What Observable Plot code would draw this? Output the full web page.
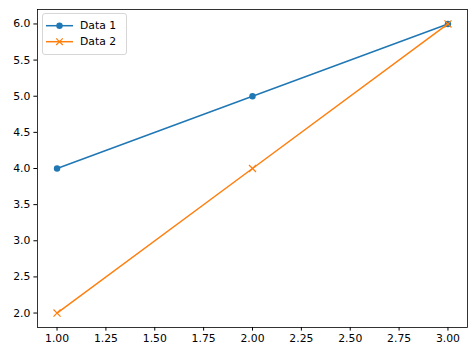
<!DOCTYPE html>
<html>
<head>
<meta charset="utf-8">
<script src="https://cdn.jsdelivr.net/npm/d3@7"></script>
<script src="https://cdn.jsdelivr.net/npm/@observablehq/plot@0.6"></script>
<style>
  html, body { margin: 0; padding: 0; background: #fff; }
  #chart svg { display: block; }
</style>
</head>
<body>
<div id="chart"></div>
<script>
const xValues = [1, 2, 3];
const data1 = [4, 5, 6];
const data2 = [2, 4, 6];
const seriesNames = ["Data 1", "Data 2"];
const seriesColors = ["#1f77b4", "#ff7f0e"];
const xTicks = [1.0, 1.25, 1.5, 1.75, 2.0, 2.25, 2.5, 2.75, 3.0];
const yTicks = [2.0, 2.5, 3.0, 3.5, 4.0, 4.5, 5.0, 5.5, 6.0];

const rows1 = xValues.map((x, i) => ({x, y: data1[i]}));
const rows2 = xValues.map((x, i) => ({x, y: data2[i]}));

const font = "DejaVu Sans, sans-serif";

const chart = Plot.plot({
  width: 474,
  height: 357,
  marginLeft: 37,
  marginRight: 7,
  marginTop: 9,
  marginBottom: 30,
  style: {fontFamily: font, fontSize: "10.8px", color: "#000", background: "#fff"},
  x: {domain: [0.9, 3.1], ticks: xTicks, tickFormat: d3.format(".2f"), label: null, tickSize: 3.6, tickPadding: 3.5},
  y: {domain: [1.8, 6.2], ticks: yTicks, tickFormat: d3.format(".1f"), label: null, tickSize: 3.6, tickPadding: 3.5},
  marks: [
    Plot.frame({stroke: "#000", strokeWidth: 0.8}),
    Plot.line(rows1, {x: "x", y: "y", stroke: seriesColors[0], strokeWidth: 1.5}),
    Plot.dot(rows1, {x: "x", y: "y", r: 3.2, fill: seriesColors[0], stroke: "none"}),
    Plot.line(rows2, {x: "x", y: "y", stroke: seriesColors[1], strokeWidth: 1.5}),
    Plot.dot(rows2, {x: "x", y: "y", r: 3.3, symbol: "times", stroke: seriesColors[1], strokeWidth: 1.2, fill: "none"})
  ]
});

document.getElementById("chart").appendChild(chart);

// Legend inside the plot frame (upper left)
const svg = d3.select(chart);
const lg = svg.append("g").attr("font-family", font).attr("font-size", "10.8px").attr("text-anchor", "start");
lg.append("rect")
  .attr("x", 42.5).attr("y", 13.5).attr("width", 84).attr("height", 41)
  .attr("rx", 2.5).attr("fill", "#fff").attr("fill-opacity", 0.8)
  .attr("stroke", "#ccc").attr("stroke-width", 0.8);
seriesNames.forEach((name, i) => {
  const cy = 25.7 + i * 16;
  lg.append("line").attr("x1", 46).attr("x2", 73).attr("y1", cy).attr("y2", cy)
    .attr("stroke", seriesColors[i]).attr("stroke-width", 1.5);
  if (i === 0) {
    lg.append("circle").attr("cx", 59.5).attr("cy", cy).attr("r", 3.2).attr("fill", seriesColors[i]);
  } else {
    const s = 3.3;
    lg.append("path").attr("d", `M${59.5 - s},${cy - s}L${59.5 + s},${cy + s}M${59.5 - s},${cy + s}L${59.5 + s},${cy - s}`)
      .attr("stroke", seriesColors[i]).attr("stroke-width", 1.2).attr("fill", "none");
  }
  lg.append("text").attr("x", 80).attr("y", cy).attr("dy", "0.35em").attr("fill", "#000").text(name);
});
</script>
</body>
</html>
